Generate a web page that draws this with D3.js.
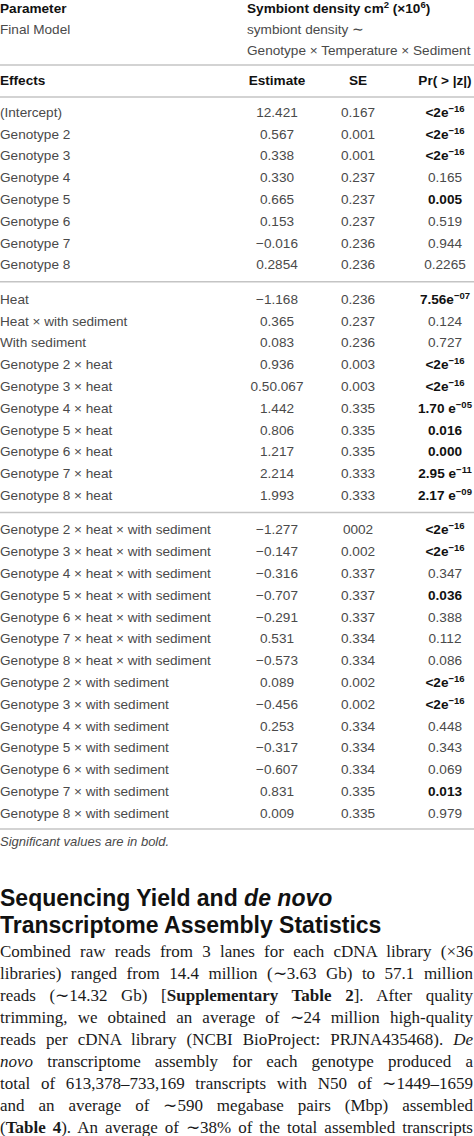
<!DOCTYPE html>
<html><head><meta charset="utf-8">
<script src="https://cdn.jsdelivr.net/npm/d3@7"></script>
<style>body{margin:0;background:#fff}svg{display:block}</style>
</head><body>
<svg id="c" width="474" height="1136"></svg>
<script>
const effects = ["(Intercept)","Genotype 2","Genotype 3","Genotype 4","Genotype 5","Genotype 6","Genotype 7","Genotype 8",
"Heat","Heat × with sediment","With sediment","Genotype 2 × heat","Genotype 3 × heat","Genotype 4 × heat","Genotype 5 × heat","Genotype 6 × heat","Genotype 7 × heat","Genotype 8 × heat",
"Genotype 2 × heat × with sediment","Genotype 3 × heat × with sediment","Genotype 4 × heat × with sediment","Genotype 5 × heat × with sediment","Genotype 6 × heat × with sediment","Genotype 7 × heat × with sediment","Genotype 8 × heat × with sediment",
"Genotype 2 × with sediment","Genotype 3 × with sediment","Genotype 4 × with sediment","Genotype 5 × with sediment","Genotype 6 × with sediment","Genotype 7 × with sediment","Genotype 8 × with sediment"];
const estimates = ["12.421","0.567","0.338","0.330","0.665","0.153","−0.016","0.2854",
"−1.168","0.365","0.083","0.936","0.50.067","1.442","0.806","1.217","2.214","1.993",
"−1.277","−0.147","−0.316","−0.707","−0.291","0.531","−0.573",
"0.089","−0.456","0.253","−0.317","−0.607","0.831","0.009"];
const seValues = ["0.167","0.001","0.001","0.237","0.237","0.237","0.236","0.236",
"0.236","0.237","0.236","0.003","0.003","0.335","0.335","0.335","0.333","0.333",
"0002","0.002","0.337","0.337","0.337","0.334","0.334",
"0.002","0.002","0.334","0.334","0.334","0.335","0.335"];
const pValues = ["<2e^−16","<2e^−16","<2e^−16","0.165","0.005","0.519","0.944","0.2265",
"7.56e^−07","0.124","0.727","<2e^−16","<2e^−16","1.70 e^−05","0.016","0.000","2.95 e^−11","2.17 e^−09",
"<2e^−16","<2e^−16","0.347","0.036","0.388","0.112","0.086",
"<2e^−16","<2e^−16","0.448","0.343","0.069","0.013","0.979"];
const significant = [1,1,1,0,1,0,0,0, 1,0,0,1,1,1,1,1,1,1, 1,1,0,1,0,0,0, 1,1,0,0,0,1,0];
const groupOf = i => i < 8 ? 0 : i < 18 ? 1 : 2;
const bodyLines = [
 [["Combined raw reads from 3 lanes for each cDNA library (×36",""]],
 [["libraries) ranged from 14.4 million (∼3.63 Gb) to 57.1 million",""]],
 [["reads (∼14.32 Gb) [",""],["Supplementary Table 2","b"],["]. After quality",""]],
 [["trimming, we obtained an average of ∼24 million high-quality",""]],
 [["reads per cDNA library (NCBI BioProject: PRJNA435468). ",""],["De","i"]],
 [["novo","i"],[" transcriptome assembly for each genotype produced a",""]],
 [["total of 613,378–733,169 transcripts with N50 of ∼1449–1659",""]],
 [["and an average of ∼590 megabase pairs (Mbp) assembled",""]],
 [["(",""],["Table 4","b"],["). An average of ∼38% of the total assembled transcripts",""]]
];

const svg = d3.select("#c");
const sans = "'Liberation Sans', Arial, Helvetica, sans-serif";
const grey = "#4a4a4a";
const FS = 13.6;
const x = d3.scaleOrdinal().domain(["eff","est","se","p"]).range([0,277,358,445]);
const rowY = d3.scaleLinear().domain([0,1]).range([112,133.8]);
const yOf = i => rowY(i) + groupOf(i)*12.6;

function put(txt,xx,yy,opt){
  const size = opt.size||FS;
  const t = svg.append("text").attr("x",xx).attr("y",yy).attr("font-family",sans)
    .attr("font-size",size).attr("fill",opt.fill||grey)
    .attr("font-weight",opt.bold?"bold":"normal").attr("text-anchor",opt.anchor||"start");
  if(opt.italic) t.attr("font-style","italic");
  const parts = txt.split("^");
  t.append("tspan").text(parts[0]);
  if(parts[1]) t.append("tspan").attr("dy",-5).attr("font-size",size*0.7).text(parts[1]);
  return t;
}
const rule = (yy)=>svg.append("line").attr("x1",0).attr("x2",474).attr("y1",yy).attr("y2",yy).attr("stroke","#c4c4c4").attr("stroke-width",1.5);

put("Parameter",0,13,{bold:true,fill:"#111"});
const h = put("Symbiont density cm^2",247,13,{bold:true,fill:"#111"});
h.append("tspan").attr("dy",5).text(" (×10");
h.append("tspan").attr("dy",-5).attr("font-size",FS*0.7).text("6");
h.append("tspan").attr("dy",5).text(")");
put("Final Model",0,34,{});
put("symbiont density ∼",247,34,{});
put("Genotype × Temperature × Sediment",247,55,{});
rule(65);
put("Effects",0,85,{bold:true,fill:"#111"});
put("Estimate",x("est"),85,{bold:true,fill:"#111",anchor:"middle"});
put("SE",x("se"),85,{bold:true,fill:"#111",anchor:"middle"});
put("Pr( > |z|)",x("p"),85,{bold:true,fill:"#111",anchor:"middle"});
rule(97);
rule((yOf(7)+yOf(8))/2);
rule((yOf(17)+yOf(18))/2);

effects.forEach((e,i)=>{
  const yy = yOf(i)+4.8;
  put(e,0,yy,{});
  put(estimates[i],x("est"),yy,{anchor:"middle"});
  put(seValues[i],x("se"),yy,{anchor:"middle"});
  put(pValues[i],x("p"),yy,{anchor:"middle",bold:!!significant[i],fill:significant[i]?"#111":grey});
});
rule(yOf(31)+16);
put("Significant values are in bold.",0,yOf(31)+33,{italic:true,size:13});

const hh = svg.append("text").attr("x",0).attr("y",906).attr("font-family",sans).attr("font-size",23).attr("font-weight","bold").attr("fill","#111");
hh.append("tspan").text("Sequencing Yield and ");
hh.append("tspan").attr("font-style","italic").text("de novo");
svg.append("text").attr("x",0).attr("y",933).attr("font-family",sans).attr("font-size",23).attr("font-weight","bold").attr("fill","#111").text("Transcriptome Assembly Statistics");

const serif = "'Liberation Serif', 'Times New Roman', serif";
const W = 473;
bodyLines.forEach((segs,li)=>{
  const t = svg.append("text").attr("x",0).attr("y",957+li*22).attr("font-family",serif).attr("font-size",17).attr("fill","#1a1a1a").attr("xml:space","preserve");
  segs.forEach(([s,st])=>{
    const sp = t.append("tspan").text(s);
    if(st==="b") sp.attr("font-weight","bold");
    if(st==="i") sp.attr("font-style","italic");
  });
  const full = segs.map(d=>d[0]).join("");
  const gaps = (full.match(/ /g)||[]).length;
  let w = t.node().getComputedTextLength();
  if(w > W){ t.attr("textLength",W).attr("lengthAdjust","spacingAndGlyphs"); }
  else if(gaps>0) t.attr("word-spacing",(W-w)/gaps);
});
</script>
</body></html>
